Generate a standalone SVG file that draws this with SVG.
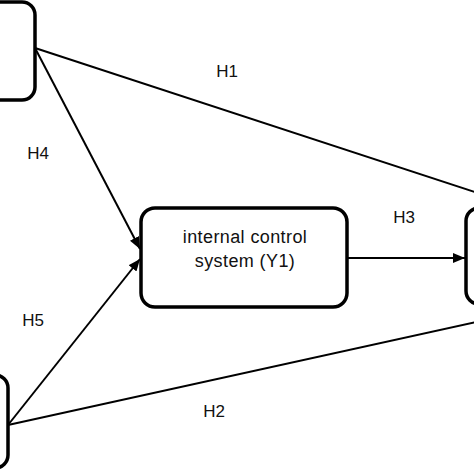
<svg xmlns="http://www.w3.org/2000/svg" width="474" height="474" viewBox="0 0 474 474">
<defs>
<style>
.box{fill:#fff;stroke:#000;stroke-width:3.5}
.ln{fill:none;stroke:#000;stroke-width:2}
.lbl{font-family:"Liberation Sans",Arial,sans-serif;font-size:17px;fill:#111;text-anchor:middle}
.txt{font-family:"Liberation Sans",Arial,sans-serif;font-size:18px;letter-spacing:0.4px;fill:#111;text-anchor:middle}
</style>
<marker id="arr" viewBox="0 0 12 10" refX="12" refY="5" markerWidth="12" markerHeight="10" markerUnits="userSpaceOnUse" orient="auto">
<path d="M0,0 L12,5 L0,10 z" fill="#000"/>
</marker>
</defs>
<rect width="474" height="474" fill="#fff"/>
<g id="connectors">
<line class="ln" x1="35" y1="48" x2="490" y2="197"/>
<line class="ln" x1="35" y1="48" x2="140" y2="249" marker-end="url(#arr)"/>
<line class="ln" x1="8" y1="425" x2="140" y2="259" marker-end="url(#arr)"/>
<line class="ln" x1="8" y1="425" x2="490" y2="319"/>
<line class="ln" x1="347" y1="258" x2="465" y2="258" marker-end="url(#arr)"/>
</g>
<g id="node-x1"><rect class="box" x="-30" y="2" width="65" height="98" rx="13"/></g>
<g id="node-x2"><rect class="box" x="-50" y="375" width="58" height="93" rx="13"/></g>
<g id="node-y1">
<rect class="box" x="141" y="208" width="206" height="99" rx="14"/>
<text class="txt" x="245" y="243">internal control</text>
<text class="txt" x="245" y="267">system (Y1)</text>
</g>
<g id="node-y2"><rect class="box" x="466" y="208" width="60" height="96" rx="13"/></g>
<g id="labels">
<text class="lbl" x="227" y="77">H1</text>
<text class="lbl" x="38" y="159">H4</text>
<text class="lbl" x="33" y="326">H5</text>
<text class="lbl" x="214" y="417">H2</text>
<text class="lbl" x="404" y="223">H3</text>
</g>
</svg>
